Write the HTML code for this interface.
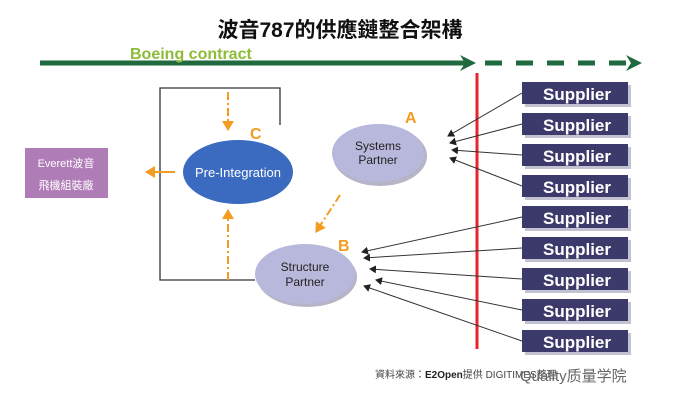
<!DOCTYPE html>
<html><head><meta charset="utf-8"><style>
body{margin:0;background:#fff;width:678px;height:404px;overflow:hidden}
svg{display:block}
text{font-family:"Liberation Sans","Noto Sans CJK TC",sans-serif}
</style></head><body>
<svg width="678" height="404" viewBox="0 0 678 404">
<defs>
<marker id="ar" markerWidth="8" markerHeight="8" refX="6" refY="4" orient="auto" markerUnits="userSpaceOnUse"><path d="M0,0 L7,4 L0,8 z" fill="#222"/></marker>
<marker id="ao" markerWidth="12" markerHeight="12" refX="9" refY="6" orient="auto" markerUnits="userSpaceOnUse"><path d="M0,0 L10,6 L0,12 z" fill="#f39c1f"/></marker>
</defs>
<text x="340" y="37" text-anchor="middle" font-size="21" font-weight="bold" fill="#111">波音787的供應鏈整合架構</text>
<line x1="40" y1="63" x2="465" y2="63" stroke="#1f6a3e" stroke-width="5"/>
<path d="M460,55 L476,63 L460,71 L465,63z" fill="#1f6a3e"/>
<line x1="485" y1="63" x2="630" y2="63" stroke="#1f6a3e" stroke-width="5" stroke-dasharray="17,14"/>
<path d="M626,55 L642,63 L626,71 L631,63z" fill="#1f6a3e"/>
<text x="130" y="59" font-size="16" font-weight="bold" fill="#8dbb3a">Boeing contract</text>
<path d="M280,125 L280,88 L160,88 L160,280 L255,280" fill="none" stroke="#333" stroke-width="1.3"/>
<line x1="477" y1="73" x2="477" y2="349" stroke="#e8232a" stroke-width="3"/>
<g stroke="#333" stroke-width="1" marker-end="url(#ar)">
<line x1="522" y1="93" x2="448" y2="136"/>
<line x1="522" y1="124" x2="450" y2="143"/>
<line x1="522" y1="155" x2="452" y2="150"/>
<line x1="522" y1="186" x2="450" y2="158"/>
<line x1="522" y1="217" x2="362" y2="252"/>
<line x1="522" y1="248" x2="364" y2="258"/>
<line x1="522" y1="279" x2="370" y2="269"/>
<line x1="522" y1="310" x2="376" y2="280"/>
<line x1="522" y1="341" x2="364" y2="286"/>
</g>
<g font-size="17" font-weight="bold" fill="#fff">
<g transform="translate(0,0)">
<rect x="525" y="85" width="106" height="22" fill="#9a9ab0" opacity=".6"/><rect x="522" y="82" width="106" height="22" fill="#3b3a6b"/><text x="577" y="100" text-anchor="middle">Supplier</text>
<rect x="525" y="116" width="106" height="22" fill="#9a9ab0" opacity=".6"/><rect x="522" y="113" width="106" height="22" fill="#3b3a6b"/><text x="577" y="131" text-anchor="middle">Supplier</text>
<rect x="525" y="147" width="106" height="22" fill="#9a9ab0" opacity=".6"/><rect x="522" y="144" width="106" height="22" fill="#3b3a6b"/><text x="577" y="162" text-anchor="middle">Supplier</text>
<rect x="525" y="178" width="106" height="22" fill="#9a9ab0" opacity=".6"/><rect x="522" y="175" width="106" height="22" fill="#3b3a6b"/><text x="577" y="193" text-anchor="middle">Supplier</text>
<rect x="525" y="209" width="106" height="22" fill="#9a9ab0" opacity=".6"/><rect x="522" y="206" width="106" height="22" fill="#3b3a6b"/><text x="577" y="224" text-anchor="middle">Supplier</text>
<rect x="525" y="240" width="106" height="22" fill="#9a9ab0" opacity=".6"/><rect x="522" y="237" width="106" height="22" fill="#3b3a6b"/><text x="577" y="255" text-anchor="middle">Supplier</text>
<rect x="525" y="271" width="106" height="22" fill="#9a9ab0" opacity=".6"/><rect x="522" y="268" width="106" height="22" fill="#3b3a6b"/><text x="577" y="286" text-anchor="middle">Supplier</text>
<rect x="525" y="302" width="106" height="22" fill="#9a9ab0" opacity=".6"/><rect x="522" y="299" width="106" height="22" fill="#3b3a6b"/><text x="577" y="317" text-anchor="middle">Supplier</text>
<rect x="525" y="333" width="106" height="22" fill="#9a9ab0" opacity=".6"/><rect x="522" y="330" width="106" height="22" fill="#3b3a6b"/><text x="577" y="348" text-anchor="middle">Supplier</text>
</g></g>
<ellipse cx="380" cy="156" rx="47" ry="30" fill="#6c6c90" opacity=".5"/>
<ellipse cx="378" cy="153" rx="46" ry="29" fill="#b8b8dc"/>
<text x="378" y="150" text-anchor="middle" font-size="12" fill="#222">Systems</text>
<text x="378" y="164" text-anchor="middle" font-size="12" fill="#222">Partner</text>
<ellipse cx="238" cy="172" rx="55" ry="32" fill="#3a6bc0"/>
<text x="238" y="177" text-anchor="middle" font-size="13" fill="#fff">Pre-Integration</text>
<ellipse cx="307" cy="277" rx="50" ry="30" fill="#6c6c90" opacity=".5"/>
<ellipse cx="305" cy="274" rx="50" ry="30" fill="#b8b8dc"/>
<text x="305" y="271" text-anchor="middle" font-size="12" fill="#222">Structure</text>
<text x="305" y="286" text-anchor="middle" font-size="12" fill="#222">Partner</text>
<rect x="25" y="148" width="83" height="50" fill="#b07cb8"/>
<text x="66" y="167" text-anchor="middle" font-size="11" fill="#fff">Everett波音</text>
<text x="66" y="189" text-anchor="middle" font-size="11" fill="#fff">飛機組裝廠</text>
<line x1="175" y1="172" x2="146" y2="172" stroke="#f39c1f" stroke-width="2" marker-end="url(#ao)"/>
<g stroke="#f39c1f" stroke-width="2" stroke-dasharray="8,3,2,3" fill="none">
<line x1="228" y1="92" x2="228" y2="130" marker-end="url(#ao)"/>
<line x1="228" y1="280" x2="228" y2="210" marker-end="url(#ao)"/>
<line x1="340" y1="195" x2="316" y2="232" marker-end="url(#ao)"/>
</g>
<g font-size="16" font-weight="bold" fill="#f39c1f">
<text x="405" y="123">A</text><text x="250" y="139">C</text><text x="338" y="251">B</text>
</g>
<text x="375" y="378" font-size="10" fill="#444">資料來源：<tspan font-weight="bold" fill="#222">E2Open</tspan>提供 DIGITIMES整理</text>
<text x="520" y="381" font-size="15" fill="#666">Quality质量学院</text>
</svg>
</body></html>
